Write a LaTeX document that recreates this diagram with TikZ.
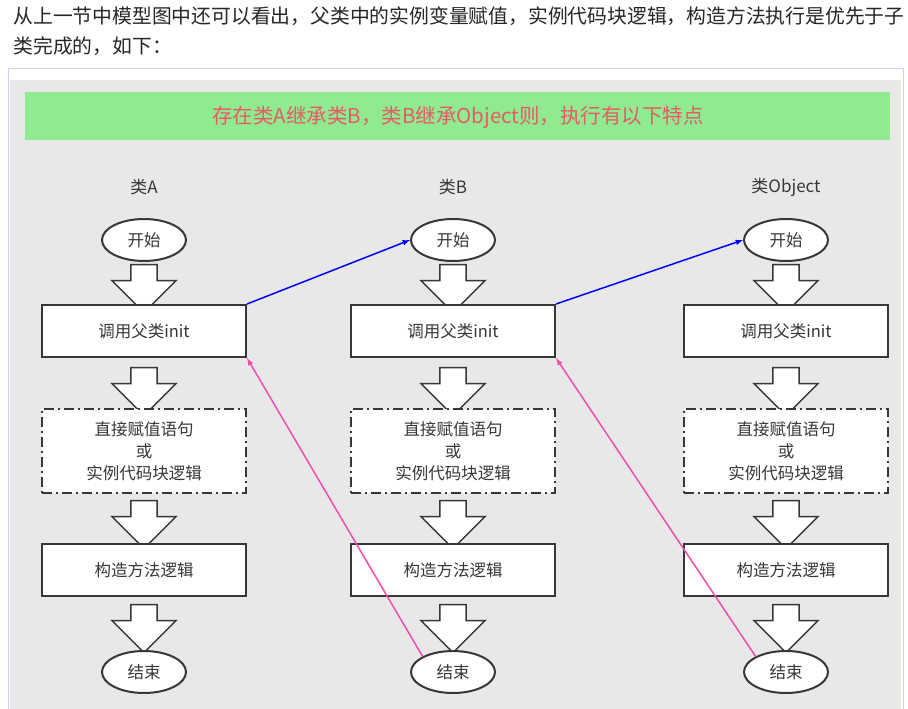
\documentclass[tikz,border=0pt]{standalone}
\usepackage{fontspec}
\setmainfont{Noto Sans CJK SC}
\usetikzlibrary{shapes.arrows, shapes.geometric}
\definecolor{bgray}{RGB}{232,232,232}
\definecolor{bgreen}{RGB}{144,234,144}
\definecolor{hred}{RGB}{232,90,100}
\definecolor{tgray}{RGB}{55,55,55}
\tikzset{
  startend/.style={draw=tgray, line width=2pt, ellipse, fill=white, minimum width=84pt, minimum height=42pt, text=tgray, font=\fontsize{16.5}{18}\selectfont},
  stepbox/.style={draw=tgray, line width=2pt, fill=white, minimum width=204pt, minimum height=52pt, text=tgray, font=\fontsize{16.5}{18}\selectfont},
  dashbox/.style={stepbox, dash pattern=on 10pt off 4pt on 2pt off 4pt, minimum height=84pt, align=center, text depth=0pt, font=\fontsize{16.5}{22}\selectfont},
  bigarrow/.style={draw=tgray, line width=1.5pt, fill=white, single arrow, shape border rotate=270, minimum height=48pt, minimum width=64pt, single arrow head extend=14pt, inner sep=9pt},
  title/.style={text=tgray, font=\fontsize{17}{19}\selectfont}
}
\begin{document}
\begin{tikzpicture}[x=1pt,y=-1pt]
  \useasboundingbox (0,0) rectangle (908,709);
  \fill[white] (0,0) rectangle (908,709);
  % caption above the figure
  \node[anchor=west, font=\fontsize{19.8}{21}\selectfont, text=black!85] at (10,16)
    {从上一节中模型图中还可以看出，父类中的实例变量赋值，实例代码块逻辑，构造方法执行是优先于子};
  \node[anchor=west, font=\fontsize{19.8}{21}\selectfont, text=black!85] at (10,46) {类完成的，如下：};
  % frame and background
  \draw[blue!20, thick] (8,68) rectangle (903,709);
  \fill[bgray] (10,80) rectangle (901,709);
  \fill[bgreen] (25,92) rectangle (890,140);
  \node[text=hred, font=\fontsize{20.5}{22}\selectfont] (head) at (458,117)
    {存在类A继承类B，类B继承Object则，执行有以下特点};
  % three columns
  \foreach \c/\x/\t in {a/144/类A, b/453/类B, o/786/类Object}{
    \node[title] (t\c) at (\x,187) {\t};
    \node[bigarrow] (ar1\c) at (\x,282) {};
    \node[bigarrow] (ar2\c) at (\x,385) {};
    \node[bigarrow] (ar3\c) at (\x,518) {};
    \node[bigarrow] (ar4\c) at (\x,622) {};
    \node[startend] (s\c) at (\x,240) {开始};
    \node[stepbox] (p\c) at (\x,331) {调用父类init};
    \node[dashbox] (d\c) at (\x,451) {直接赋值语句\\或\\实例代码块逻辑};
    \node[stepbox] (k\c) at (\x,570) {构造方法逻辑};
    \node[startend] (e\c) at (\x,672) {结束};
  }
  % calls to the parent and returns
  \draw[blue, line width=1.5pt, -latex] (pa.north east) -- (sb.west);
  \draw[blue, line width=1.5pt, -latex] (pb.north east) -- (so.west);
  \draw[magenta!70, line width=1.5pt, -latex] (eb.north west) -- (pa.south east);
  \draw[magenta!70, line width=1.5pt, -latex] (eo.north west) -- (pb.south east);
\end{tikzpicture}
\end{document}
